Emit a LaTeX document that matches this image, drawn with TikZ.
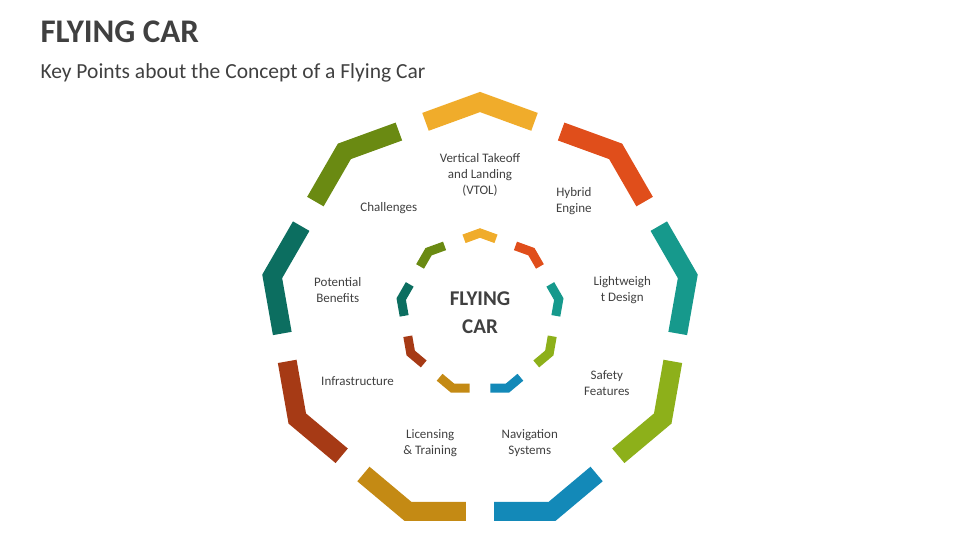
\documentclass[tikz,border=0pt]{standalone}
\usepackage{fontspec}
\setmainfont{Carlito}
\usetikzlibrary{calc}
\definecolor{c1}{HTML}{F0AC2B}
\definecolor{c2}{HTML}{E04E1B}
\definecolor{c3}{HTML}{16998C}
\definecolor{c4}{HTML}{8DB01A}
\definecolor{c5}{HTML}{1389B8}
\definecolor{c6}{HTML}{C48A14}
\definecolor{c7}{HTML}{A63A15}
\definecolor{c8}{HTML}{0C6E60}
\definecolor{c9}{HTML}{6A8A12}
\definecolor{tx}{HTML}{404040}
\tikzset{lbl/.style={font=\fontsize{13}{16}\selectfont, text=tx, align=center}}
\begin{document}
\begin{tikzpicture}[x=1pt,y=1pt]
\useasboundingbox (0,0) rectangle (960,-540);
\node[anchor=west, font=\fontsize{33}{38}\selectfont\bfseries, text=tx] (title) at (37,-32) {FLYING CAR};
\node[anchor=west, font=\fontsize{21.5}{25}\selectfont, text=tx] (sub) at (37,-73) {Key Points about the Concept of a Flying Car};
\coordinate (c) at (480,-313);
\node[font=\fontsize{21}{28}\selectfont\bfseries, text=tx, align=center] (center) at (c) {FLYING\\CAR};
\foreach \k/\col in {0/c1,1/c2,2/c3,3/c4,4/c5,5/c6,6/c7,7/c8,8/c9}{
  \pgfmathsetmacro{\a}{90-40*\k}
  \pgfmathsetmacro{\ap}{\a+40}
  \pgfmathsetmacro{\am}{\a-40}
  \coordinate (o\k) at ($(c)+(\a:211)$);
  \coordinate (op\k) at ($(c)+(\ap:211)$);
  \coordinate (om\k) at ($(c)+(\am:211)$);
  \draw[\col, line width=19pt, line join=miter] ($(o\k)!58pt!(op\k)$) -- (o\k) -- ($(o\k)!58pt!(om\k)$);
  \coordinate (i\k) at ($(c)+(\a:80)$);
  \coordinate (ip\k) at ($(c)+(\ap:80)$);
  \coordinate (im\k) at ($(c)+(\am:80)$);
  \draw[\col, line width=9pt, line join=miter] ($(i\k)!17pt!(ip\k)$) -- (i\k) -- ($(i\k)!17pt!(im\k)$);
}
\node[lbl] (l1) at ($(c)+(90:138)$) {Vertical Takeoff\\and Landing\\(VTOL)};
\node[lbl] (l2) at ($(c)+(50:146)$) {Hybrid\\Engine};
\node[lbl] (l3) at ($(c)+(9:144)$) {Lightweigh\\t Design};
\node[lbl] (l4) at ($(c)+(-29:145)$) {Safety\\Features};
\node[lbl] (l5) at ($(c)+(-69:139)$) {Navigation\\Systems};
\node[lbl] (l6) at ($(c)+(-111:139)$) {Licensing\\\& Training};
\node[lbl] (l7) at ($(c)+(-151:140)$) {Infrastructure};
\node[lbl] (l8) at ($(c)+(171:144)$) {Potential\\Benefits};
\node[lbl] (l9) at ($(c)+(131:139)$) {Challenges};
\end{tikzpicture}
\end{document}
